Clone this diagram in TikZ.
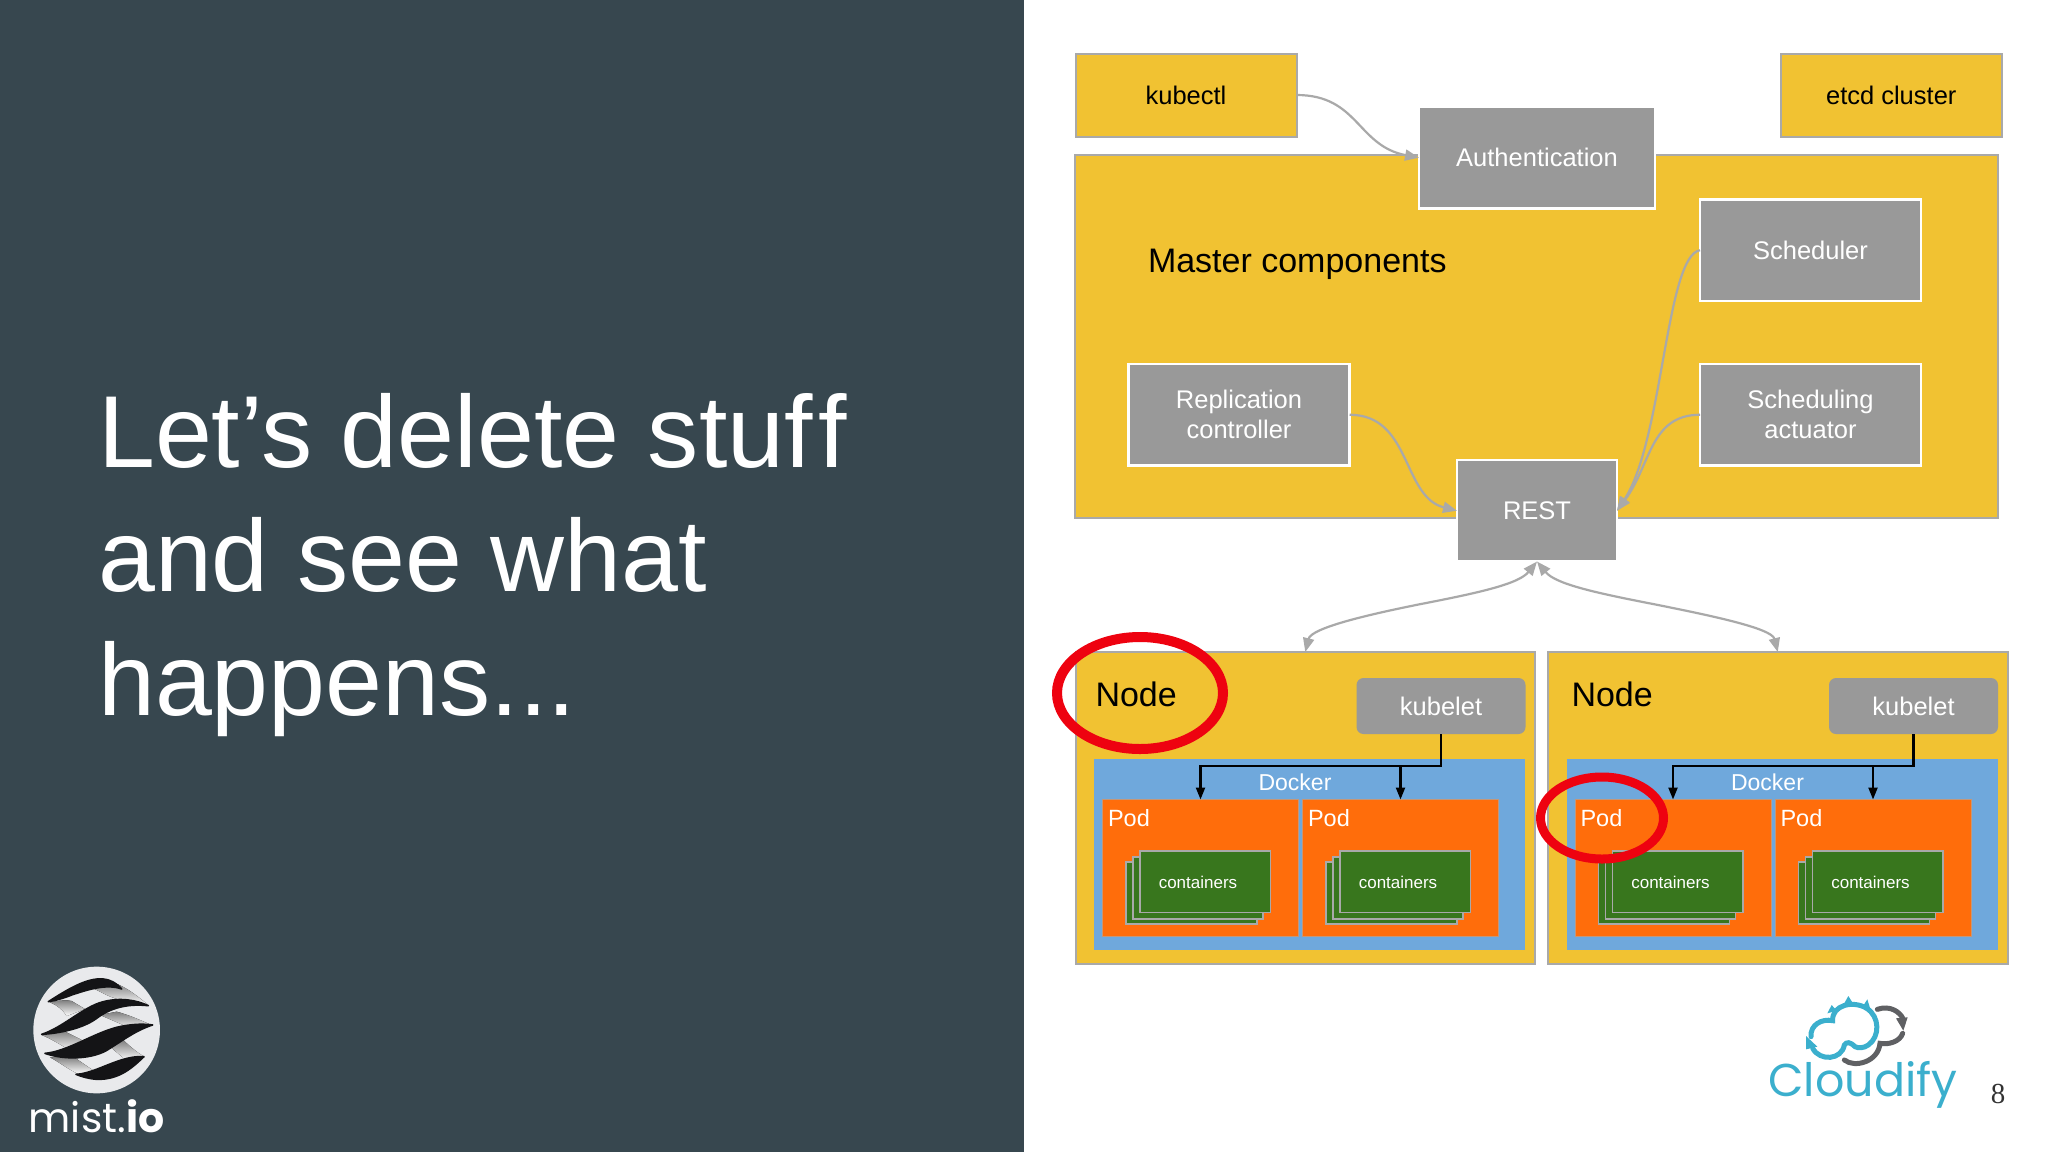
\documentclass[tikz,border=0pt]{standalone}
\usepackage{fontspec}
\setmainfont[RawFeature=-liga]{Liberation Sans}
\newfontfamily\logofont{Poppins}
\newfontfamily\pagefont{Liberation Serif}
\usetikzlibrary{arrows.meta}
\definecolor{panel}{HTML}{37474F}
\definecolor{gold}{HTML}{F1C232}
\definecolor{slate}{HTML}{999999}
\definecolor{edge}{HTML}{A9A9A9}
\definecolor{dock}{HTML}{6FA8DC}
\definecolor{podc}{HTML}{FF6D0B}
\definecolor{grn}{HTML}{38761D}
\definecolor{ringred}{HTML}{EE0210}
\definecolor{cloudb}{HTML}{3BAFCD}
\definecolor{cloudg}{HTML}{5F6063}
\definecolor{disc}{HTML}{E9EAEC}
\definecolor{shade}{HTML}{B4B4B6}
\definecolor{ink}{HTML}{141416}
\newcommand\fs[1]{\fontsize{#1}{#1}\selectfont}
\tikzset{
  base/.style={rectangle,inner sep=0pt,outer sep=0pt},
  goldbox/.style={base,fill=gold,draw=edge,line width=2pt,text=black,font=\fontsize{25.5}{30}\selectfont},
  greybox/.style={base,fill=slate,draw=white,line width=2.4pt,text=white,align=center,font=\fontsize{25.5}{30}\selectfont},
  kubebox/.style={base,fill=slate,rounded corners=7pt,text=white,font=\fontsize{25.5}{30}\selectfont},
  dockbox/.style={base,fill=dock},
  podbox/.style={base,fill=podc,draw=edge!70!podc,line width=1pt},
  ctrbox/.style={base,fill=grn,draw=edge,line width=1.6pt},
  lab/.style={inner sep=0pt,outer sep=0pt,anchor=base},
  labw/.style={inner sep=0pt,outer sep=0pt,anchor=base west},
  flow/.style={draw=edge,line width=2.2pt,-{Triangle[length=14pt,width=11pt]}},
  flowb/.style={draw=edge,line width=2.2pt,{Triangle[length=14pt,width=11pt]}-{Triangle[length=14pt,width=11pt]}},
  feed/.style={draw=black,line width=2.2pt,-{Triangle[length=12pt,width=9pt]}},
  ring/.style={draw=ringred,fill=none},
  stripe/.style={fill=ink,draw=ink,line width=1.6pt,line join=round},
  cb/.style={draw=cloudb,line width=5pt,line cap=round,fill=none},
  cg/.style={draw=cloudg,line width=5pt,line cap=round,fill=none}
}
\newcommand\bx[7]{%
  \pgfmathsetmacro\bw{#5-#3}\pgfmathsetmacro\bh{#6-#4}%
  \pgfmathsetmacro\bcx{(#3+#5)/2}\pgfmathsetmacro\bcy{(#4+#6)/2}%
  \node[#1,minimum width=\bw pt,minimum height=\bh pt] (#2) at (\bcx,\bcy) {#7};}
\begin{document}
\begin{tikzpicture}[x=1pt,y=-1pt]
\useasboundingbox (0,0) rectangle (2048,1152);
\fill[white] (0,0) rectangle (2048,1152);
\fill[panel] (0,0) rectangle (1024,1152);
\node[anchor=west,inner sep=0pt,align=left,text=white,font=\fontsize{102.3}{124}\selectfont] (title) at (98,565)
  {Let’s delete stuf\kern6pt f\\and see what\\happens...};

% mist.io logo
\begin{scope}[shift={(0,940)},x=0.3333pt,y=-0.3333pt]
  \fill[disc] (290,270) circle[radius=190];
  \fill[shade] (270,140) -- (340,128) .. controls (380,140) and (420,175) .. (445,195) .. controls (400,188) and (350,180) .. (320,165) -- cycle;
  \fill[shade] (150,187) .. controls (180,180) and (205,180) .. (215,183) -- (255,207) -- (200,228) .. controls (190,210) and (170,195) .. (150,187) -- cycle;
  \fill[shade] (300,225) -- (350,215) .. controls (390,225) and (430,245) .. (455,255) .. controls (430,262) and (415,265) .. (400,268) -- cycle;
  \fill[shade] (125,285) -- (190,272) -- (265,310) -- (215,335) .. controls (185,315) and (150,295) .. (125,285) -- cycle;
  \fill[shade] (330,320) -- (370,300) .. controls (390,320) and (415,340) .. (430,348) -- (380,362) -- cycle;
  \fill[shade] (150,352) -- (220,350) -- (285,395) -- (235,402) .. controls (200,385) and (175,365) .. (150,352) -- cycle;
  \path[stripe] (145,185) .. controls (200,150) and (260,112) .. (310,117) .. controls (335,120) and (350,130) .. (365,147) .. controls (320,130) and (260,150) .. (215,165) .. controls (190,175) and (165,182) .. (145,185) -- cycle;
  \path[stripe] (125,283) .. controls (190,262) and (250,200) .. (310,185) .. controls (360,172) and (410,180) .. (445,197) .. controls (380,190) and (330,205) .. (290,235) .. controls (250,265) and (180,280) .. (125,283) -- cycle;
  \path[stripe] (135,340) .. controls (200,335) and (280,280) .. (350,262) .. controls (400,250) and (440,252) .. (458,255) .. controls (410,270) and (370,300) .. (330,325) .. controls (280,360) and (190,360) .. (135,340) -- cycle;
  \path[stripe] (228,403) .. controls (290,400) and (360,345) .. (432,350) .. controls (400,380) and (360,420) .. (290,418) .. controls (265,416) and (245,410) .. (228,403) -- cycle;
\end{scope}
\node[lab,text=white,font=\logofont\fs{41}] (mistlabel) at (96.5,1132) {mist.{\bfseries io}};

% master block
\bx{goldbox}{master}{1075}{154.5}{1998}{517.5}{}
\bx{goldbox}{kubectl}{1075.5}{53.5}{1296.5}{136.5}{kubectl}
\bx{goldbox}{etcd}{1780.5}{53.5}{2002}{136.5}{etcd cluster}
\bx{greybox}{auth}{1419}{107}{1655}{208.5}{Authentication}
\bx{greybox}{sched}{1700}{199.5}{1921}{301}{Scheduler}
\bx{greybox}{actuator}{1700}{364}{1921}{465.5}{Scheduling\\actuator}
\bx{greybox}{repl}{1128.5}{364}{1349.5}{465.5}{Replication\\controller}
\bx{greybox}{rest}{1457}{460}{1617}{561.5}{REST}
\node[labw,text=black,font=\fs{34}] (masterlabel) at (1148,272) {Master components};

% worker nodes
\foreach \n/\dx/\lx in {a/0/0,b/472.5/3.5}{
  \begin{scope}[xshift=\dx pt]
  \bx{goldbox}{node\n}{1075.5}{652}{1535}{964}{}
  \bx{kubebox}{kubelet\n}{1356.5}{678}{1525.5}{734}{kubelet}
  \bx{dockbox}{docker\n}{1094}{759}{1525}{950}{}
  \node[lab,text=white,font=\fs{23}] (dockerlabel\n) at (1295,790) {Docker};
  \node[labw,text=black,font=\fs{34}] (nodelabel\n) at (1095.5+\lx,706) {Node};
  \foreach \p/\ox in {1/0,2/200}{
    \begin{scope}[xshift=\ox pt]
    \bx{podbox}{pod\n\p}{1102.5}{799.5}{1298.5}{936.5}{}
    \node[labw,text=white,font=\fs{23.5}] (podlabel\n\p) at (1108,826) {Pod};
    \bx{ctrbox}{ctrc\n\p}{1126}{862}{1257}{924}{}
    \bx{ctrbox}{ctrb\n\p}{1133}{857}{1263}{919}{}
    \bx{ctrbox}{ctra\n\p}{1140}{851}{1270.5}{912.5}{}
    \node[lab,text=white,font=\fs{17}] (ctrlabel\n\p) at (1198,888) {containers};
    \end{scope}
  }
  \end{scope}
  \draw[feed] (kubelet\n.south) -- ++(0,32) -| (pod\n1.north);
  \draw[feed] (kubelet\n.south) -- ++(0,32) -| (pod\n2.north);
}

% connectors
\draw[flow] (kubectl.east) .. controls +(62,0) and +(-62,-12) .. (auth.west);
\draw[flow] (repl.east) .. controls +(62,0) and +(-55,-14) .. (rest.west);
\draw[flow] (sched.west) .. controls +(-34,5) and +(46,-70) .. (rest.east);
\draw[flow] (actuator.west) .. controls +(-50,0) and +(34,-46) .. (rest.east);
\coordinate (midl) at (1421,604);
\coordinate (midr) at (1653,604);
\draw[flowb] (nodea.north) .. controls +(6,-24) and +(-55,11) .. (midl) .. controls +(62,-12) and +(-18,22) .. (rest.south);
\draw[flowb] (nodeb.north) .. controls +(-6,-24) and +(55,11) .. (midr) .. controls +(-62,-12) and +(18,22) .. (rest.south);

% red rings
\draw[ring,line width=10pt] (1140,693) ellipse[x radius=83,y radius=56];
\draw[ring,line width=9pt] (1602,818) ellipse[x radius=61.5,y radius=41];

% Cloudify logo
\begin{scope}[shift={(1740,980)},x=0.3333pt,y=-0.3333pt]
  \draw[cg] (412,88) .. controls (450,75) and (480,95) .. (490,118);
  \fill[cloudg] (468,115) -- (503,112) -- (490,152) -- cycle;
  \draw[cg] (488,160) .. controls (480,185) and (445,195) .. (420,190) .. controls (415,245) and (345,265) .. (313,240);
  \fill[cloudb] (262,100) -- (275,75) -- (290,92) -- cycle;
  \fill[cloudb] (310,75) -- (325,48) -- (342,75) -- cycle;
  \fill[cloudb] (368,80) -- (382,58) -- (392,90) -- cycle;
  \draw[cb] (213,170) .. controls (210,135) and (245,115) .. (278,122) .. controls (275,75) and (340,60) .. (380,85) .. controls (420,110) and (420,170) .. (385,195) .. controls (370,205) and (355,205) .. (345,200) .. controls (330,185) and (320,185) .. (313,195) .. controls (305,240) and (240,245) .. (218,205);
  \fill[cloudb] (198,168) -- (232,200) -- (198,208) -- cycle;
\end{scope}
\node[lab,text=cloudb,font=\logofont\fs{46}] (cloudlabel) at (1863,1096) {Cloudify};
\node[lab,text=black!80,font=\pagefont\fs{29}] (pagenum) at (1998,1103) {8};
\end{tikzpicture}
\end{document}
